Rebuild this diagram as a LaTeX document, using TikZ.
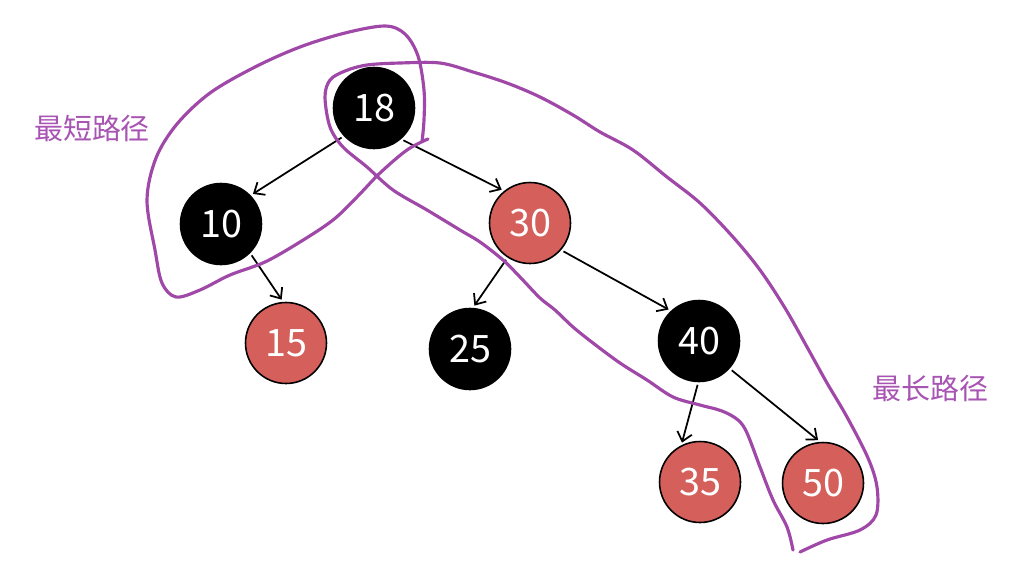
\documentclass[tikz,border=0pt]{standalone}
\usepackage{fontspec}
\newfontfamily\cjk{Noto Sans CJK SC}
\usetikzlibrary{positioning, arrows.meta}
\definecolor{nodered}{RGB}{212,95,91}
\definecolor{penpurple}{RGB}{160,72,168}
\definecolor{labelpurple}{RGB}{168,84,178}

\begin{document}
\begin{tikzpicture}[x=0.02cm, y=-0.02cm,
    treenode/.style={circle, draw=black, line width=0.9pt, minimum size=1.62cm, inner sep=0pt,
        text=white, font=\cjk\fontsize{21.5}{24}\selectfont},
    blacknode/.style={treenode, fill=black},
    rednode/.style={treenode, fill=nodered},
    edge/.style={line width=1pt, -{Straight Barb[length=5pt,width=8.5pt]},
        shorten <=1.5pt, shorten >=1.5pt},
    pen/.style={penpurple, line width=1.8pt, line join=round, line cap=round},
    pathlabel/.style={labelpurple, font=\cjk\fontsize{16.5}{18}\selectfont}]
    \useasboundingbox (0,0) rectangle (1024,572);
    \node[blacknode] (n18) at (374,108) {18};
    \node[blacknode] (n10) at (221,224) {10};
    \node[rednode]   (n30) at (530,223) {30};
    \node[rednode]   (n15) at (286,343) {15};
    \node[blacknode] (n25) at (470,349) {25};
    \node[blacknode] (n40) at (699,341) {40};
    \node[rednode]   (n35) at (700,482) {35};
    \node[rednode]   (n50) at (823,483) {50};
    \draw[edge] (n18.-137) -- (n10.44);
    \draw[edge] (n18.-49) -- (n30.129);
    \draw[edge] (n10.-45) -- (n15.94);
    \draw[edge] (n30.-123) -- (n25.86);
    \draw[edge] (n30.-41) -- (n40.133);
    \draw[edge] (n40.-91) -- (n35.117);
    \draw[edge] (n40.-42) -- (n50.94);
    \node[pathlabel] (shortlbl) at (92,128) {最短路径};
    \node[pathlabel] (longlbl) at (930,388) {最长路径};
    \draw[pen] plot[smooth, tension=0.55] coordinates {(428,139) (407,150) (380,173) (357,197)
        (333,220) (300,242) (265,262) (230,275) (200,290) (176,297) (162,283) (155,250)
        (147,200) (156,158) (177,124) (210,93) (255,67) (300,47) (345,33) (385,26)
        (405,34) (418,56) (424,90) (424,120) (422,142)};
    \draw[pen] plot[smooth, tension=0.55] coordinates {(793,550) (787,527) (773,500)
        (760,467) (747,433) (738,420) (722,411) (700,405) (673,397) (647,380) (620,363)
        (593,343) (573,327) (555,310) (540,298) (520,277) (503,260) (480,242) (460,230)
        (427,210) (393,190) (367,167) (343,147) (330,127) (325,97) (330,80) (345,71)
        (367,65) (400,63) (440,63) (473,72) (507,83) (540,97) (573,115) (600,132)
        (633,150) (667,177) (700,203) (733,237) (760,270) (785,308) (807,347) (827,383)
        (847,417) (868,458) (877,487) (876,515) (860,530) (827,540) (800,552)};
\end{tikzpicture}
\end{document}
